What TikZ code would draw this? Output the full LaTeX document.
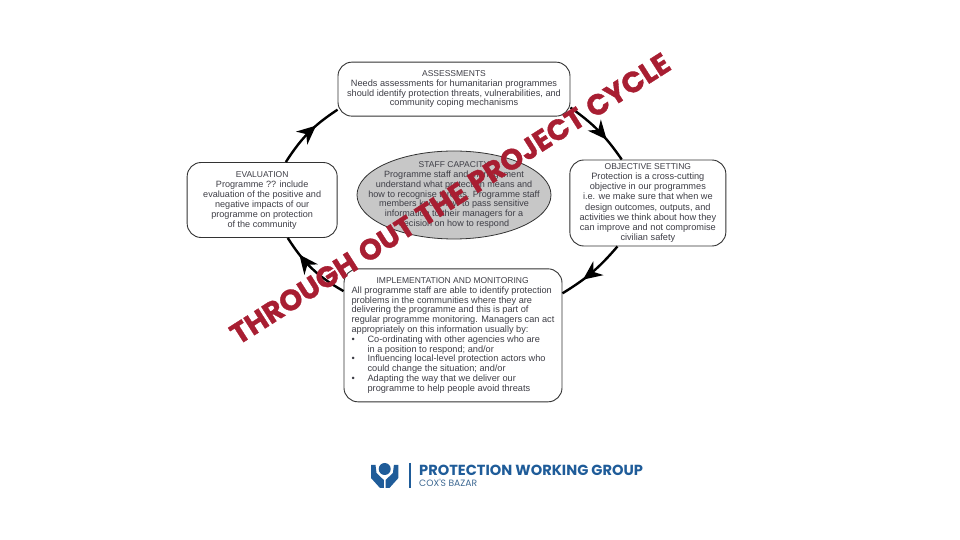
\documentclass[tikz,border=0pt]{standalone}
\usepackage{fontspec}
\setmainfont{Liberation Sans}
\newfontfamily\bannerfont[BoldFeatures={FakeBold=1.2},WordSpace=1.3]{Poppins}
\newfontfamily\logofont{Poppins}
\usetikzlibrary{positioning,shapes.geometric,arrows.meta,decorations.markings}
\definecolor{bannerred}{HTML}{A81E32}
\definecolor{logoblue}{HTML}{1F5C99}
\definecolor{bodygray}{HTML}{3E3E46}
\newcommand{\stagehead}[1]{{\fontsize{8.5}{9.8}\selectfont #1}}
\tikzset{
  stagebox/.style={draw=black!80, line width=0.9pt, rounded corners=14pt, fill=white,
    inner sep=0pt, align=center, text=bodygray, font=\fontsize{9.2}{9.8}\selectfont},
  cycleflow/.style={line width=2.4pt, postaction={decorate}, decoration={markings,
    mark=at position #1 with {\arrow{Stealth[length=19pt,width=17pt,inset=6pt]}}}},
  banner/.style={text=bannerred, font=\bannerfont\bfseries\fontsize{29}{29}\selectfont, inner sep=0pt}
}
\begin{document}
\begin{tikzpicture}[x=1pt,y=1pt]
  \useasboundingbox (0,0) rectangle (960,540);

  \node[ellipse, draw=black!80, line width=0.8pt, fill=black!22, minimum width=194pt, minimum height=88pt,
        inner sep=0pt] (staff) at (454,345) {};
  \node[align=center, inner sep=0pt, text=bodygray, font=\fontsize{9.05}{9.8}\selectfont] (stafftext) at (staff)
        {\stagehead{STAFF CAPACITY}\\ Programme staff and management\\ understand what protection means and\\
         how to recognise threats. Programme staff\\ members know how to pass sensitive\\
         information to their managers for a\\ decision on how to respond};
  \node[stagebox, minimum width=232pt, minimum height=54pt, above=34pt of staff] (assess)
        {\stagehead{ASSESSMENTS}\\ Needs assessments for humanitarian programmes\\
         should identify protection threats, vulnerabilities, and\\ community coping mechanisms};
  \node[stagebox, minimum width=150pt, minimum height=75pt, left=19pt of staff, yshift=-5pt,
        font=\fontsize{9.1}{10}\selectfont] (eval)
        {\stagehead{EVALUATION}\\ Programme ?? include\\ evaluation of the positive and\\ negative impacts of our\\
         programme on protection\\ of the community};
  \node[stagebox, minimum width=156pt, minimum height=86pt, right=18pt of staff, yshift=-8pt,
        font=\fontsize{9.2}{10.2}\selectfont] (objective)
        {\stagehead{OBJECTIVE SETTING}\\ Protection is a cross-cutting\\ objective in our programmes\\
         i.e. we make sure that when we\\ design outcomes, outputs, and\\ activities we think about how they\\
         can improve and not compromise\\ civilian safety};
  \node[stagebox, minimum width=218pt, minimum height=133pt, below=29pt of staff, xshift=-1pt, align=left] (impl)
        {\makebox[202pt][c]{\stagehead{IMPLEMENTATION AND MONITORING}}\\
         All programme staff are able to identify protection\\ problems in the communities where they are\\
         delivering the programme and this is part of\\ regular programme monitoring. Managers can act\\
         appropriately on this information usually by:\\
         \makebox[16pt][l]{•}Co-ordinating with other agencies who are\\ \hspace*{16pt}in a position to respond; and/or\\
         \makebox[16pt][l]{•}Influencing local-level protection actors who\\ \hspace*{16pt}could change the situation; and/or\\
         \makebox[16pt][l]{•}Adapting the way that we deliver our\\ \hspace*{16pt}programme to help people avoid threats};

  \draw[cycleflow=0.66] (assess.-9) to[bend left=10] (objective.121);
  \draw[cycleflow=0.66] (objective.235) to[bend left=9] (impl.21);
  \draw[cycleflow=0.74] (impl.158) to[bend left=14] (eval.-56);
  \draw[cycleflow=0.64] (eval.58) to[bend left=12] (assess.190);

  % red text across the cycle
  \node[banner, rotate=32.5] (through) at (450,341.5) {THROUGH OUT THE PROJECT CYCLE};

  % logo
  \node[circle, fill=logoblue, minimum size=12pt, inner sep=0pt] (head) at (384.7,71) {};
  \fill[logoblue] (371,75) -- (375.5,75) -- (376.5,67) -- (383.8,60) -- (383.8,52) -- (380,52) -- (371,62) -- cycle;
  \fill[logoblue] (398.4,75) -- (393.9,75) -- (392.9,67) -- (385.6,60) -- (385.6,52) -- (389.4,52) -- (398.4,62) -- cycle;
  \draw[logoblue, line width=1.2pt] (410,77) -- (410,52);
  \node[anchor=west, inner sep=0pt, text=logoblue, font=\logofont\bfseries\fontsize{14.6}{14.6}\selectfont] (wgroup) at (419,70) {PROTECTION WORKING GROUP};
  \node[below=4pt of wgroup.south west, anchor=north west, inner sep=0pt, text=logoblue!70!gray, font=\logofont\fontsize{9.2}{9.2}\selectfont] (place) {COX'S BAZAR};
\end{tikzpicture}
\end{document}
